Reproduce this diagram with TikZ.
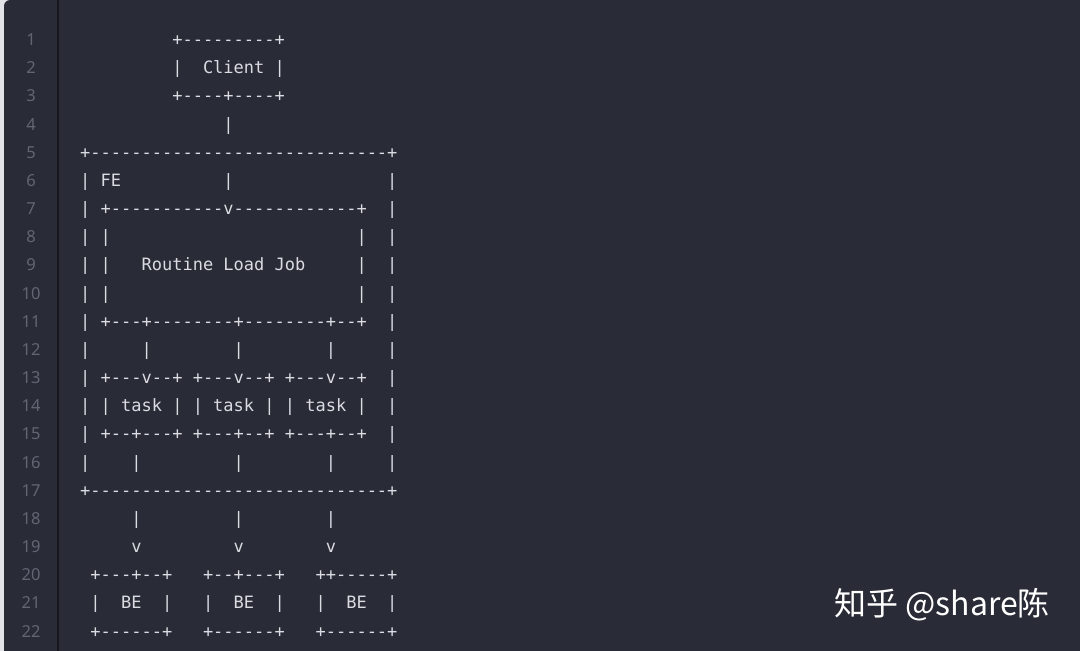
\documentclass[tikz,border=0pt]{standalone}
\usepackage{fontspec}
\setmonofont{DejaVu Sans Mono}
\newfontfamily\numfont{Noto Sans}
\newfontfamily\cjk{Noto Sans CJK SC}
\usepackage{tikz}
\usetikzlibrary{positioning}

\definecolor{panelbg}{RGB}{41,44,55}
\definecolor{framebg}{RGB}{226,227,230}
\definecolor{gutterline}{RGB}{22,23,28}
\definecolor{codefg}{RGB}{218,220,226}
\definecolor{numfg}{RGB}{98,102,115}

\begin{document}
\begin{tikzpicture}[
        x=1pt, y=-1pt,
        node distance=28.17pt,
        codeline/.style={font=\ttfamily\fontsize{17}{20}\selectfont, text=codefg, inner sep=0pt},
        lineno/.style={font=\numfont\fontsize{16.5}{19}\selectfont, text=numfg, inner sep=0pt, anchor=base},
        watermark/.style={font=\cjk\fontsize{32}{36}\selectfont, text=white, inner sep=0pt}
      ]
        \useasboundingbox (0,0) rectangle (1080,651);

        % editor panel
        \fill[framebg] (0,0) rectangle (1080,651);
        \fill[panelbg, rounded corners=6pt] (4,0) rectangle (1095,665);
        \draw[gutterline, line width=1.2pt] (58,0) -- (58,651);

        % ascii diagram, one node per line
        \node (l1) [codeline, anchor=base west] at (80,45.5) {~~~~~~~~~+---------+};
        \node (l2) [codeline, below=of l1.base west, anchor=base west] {~~~~~~~~~|~~Client~|};
        \node (l3) [codeline, below=of l2.base west, anchor=base west] {~~~~~~~~~+----+----+};
        \node (l4) [codeline, below=of l3.base west, anchor=base west] {~~~~~~~~~~~~~~|};
        \node (l5) [codeline, below=of l4.base west, anchor=base west] {+-----------------------------+};
        \node (l6) [codeline, below=of l5.base west, anchor=base west] {|~FE~~~~~~~~~~|~~~~~~~~~~~~~~~|};
        \node (l7) [codeline, below=of l6.base west, anchor=base west] {|~+-----------v------------+~~|};
        \node (l8) [codeline, below=of l7.base west, anchor=base west] {|~|~~~~~~~~~~~~~~~~~~~~~~~~|~~|};
        \node (l9) [codeline, below=of l8.base west, anchor=base west] {|~|~~~Routine Load Job~~~~~|~~|};
        \node (l10) [codeline, below=of l9.base west, anchor=base west] {|~|~~~~~~~~~~~~~~~~~~~~~~~~|~~|};
        \node (l11) [codeline, below=of l10.base west, anchor=base west] {|~+---+--------+--------+--+~~|};
        \node (l12) [codeline, below=of l11.base west, anchor=base west] {|~~~~~|~~~~~~~~|~~~~~~~~|~~~~~|};
        \node (l13) [codeline, below=of l12.base west, anchor=base west] {|~+---v--+~+---v--+~+---v--+~~|};
        \node (l14) [codeline, below=of l13.base west, anchor=base west] {|~|~task~|~|~task~|~|~task~|~~|};
        \node (l15) [codeline, below=of l14.base west, anchor=base west] {|~+--+---+~+---+--+~+---+--+~~|};
        \node (l16) [codeline, below=of l15.base west, anchor=base west] {|~~~~|~~~~~~~~~|~~~~~~~~|~~~~~|};
        \node (l17) [codeline, below=of l16.base west, anchor=base west] {+-----------------------------+};
        \node (l18) [codeline, below=of l17.base west, anchor=base west] {~~~~~|~~~~~~~~~|~~~~~~~~|};
        \node (l19) [codeline, below=of l18.base west, anchor=base west] {~~~~~v~~~~~~~~~v~~~~~~~~v};
        \node (l20) [codeline, below=of l19.base west, anchor=base west] {~+---+--+~~~+--+---+~~~++-----+};
        \node (l21) [codeline, below=of l20.base west, anchor=base west] {~|~~BE~~|~~~|~~BE~~|~~~|~~BE~~|};
        \node (l22) [codeline, below=of l21.base west, anchor=base west] {~+------+~~~+------+~~~+------+};

        % line numbers in the gutter
        \foreach \n in {1,...,22}
          \node (num\n) [lineno] at (31,0 |- l\n.base) {\n};

        \node (mark) [watermark] at (942,605) {知乎 @share陈};
      \end{tikzpicture}
\end{document}
